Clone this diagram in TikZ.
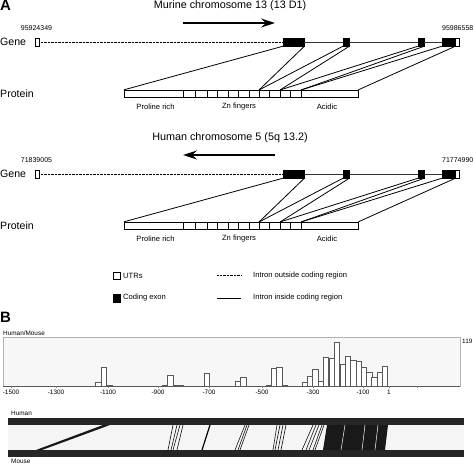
\documentclass[tikz,border=0pt]{standalone}
\usepackage{fontspec}
\setmainfont{Liberation Sans}
\usetikzlibrary{arrows.meta}

\begin{document}
\begin{tikzpicture}[x=1pt,y=-1pt,>={Stealth[length=14pt,width=9pt,inset=5pt]},
    exon/.style={draw,fill=black,inner sep=0pt,minimum height=8pt,anchor=west},
    utr/.style={draw,fill=white,inner sep=0pt,minimum width=4pt,minimum height=8pt,anchor=west},
    link/.style={line width=0.8pt},
    lbl/.style={font=\fontsize{7.6}{8}\selectfont,inner sep=0pt},
    big/.style={font=\fontsize{10.6}{12}\selectfont,inner sep=0pt},
    tiny/.style={font=\fontsize{6.4}{7}\selectfont,inner sep=0pt},
    bar/.style={draw=gray!70!black,fill=white,line width=0.5pt}]
  \useasboundingbox (0,0) rectangle (474,464);

  % panel A
  \node[font=\fontsize{15}{15}\bfseries\selectfont,anchor=north west,inner sep=0pt] (A) at (0,0) {A};

  \foreach \p/\dy/\ttl/\lnum/\rnum/\ax/\bx in {m/0/Murine chromosome 13 (13 D1)/95924349/95986558/183/275,
      h/132/Human chromosome 5 (5q 13.2)/71839005/71774990/275/183}{
    \begin{scope}[yshift=-\dy pt]
      \node[font=\fontsize{10.8}{12}\selectfont,inner sep=0pt] (\p-title) at (230,6) {\ttl};
      \coordinate (\p-a1) at (\ax,23);
      \coordinate (\p-a2) at (\bx,23);
      \draw[->,line width=1.3pt] (\p-a1) -- (\p-a2);

      % gene
      \node[font=\fontsize{7}{8}\selectfont,inner sep=0pt] (\p-lnum) at (36.5,28) {\lnum};
      \node[font=\fontsize{7}{8}\selectfont,inner sep=0pt,anchor=east] (\p-rnum) at (473.5,28) {\rnum};
      \node[big,anchor=west] (\p-gene) at (0,42) {Gene};
      \node[utr] (\p-u1) at (35,42) {};
      \node[exon,minimum width=21pt] (\p-e1) at (283,42) {};
      \node[exon,minimum width=6pt] (\p-e2) at (343,42) {};
      \node[exon,minimum width=6pt] (\p-e3) at (418,42) {};
      \node[exon,minimum width=13pt] (\p-e4) at (442,42) {};
      \node[utr] (\p-u2) at (\p-e4.east) {};
      \draw[densely dotted] (\p-u1) -- (\p-e1);
      \draw[gray!40!black] (\p-e1) -- (\p-e2) -- (\p-e3) -- (\p-e4);

      % protein
      \node[big,anchor=west] (\p-protl) at (0,93.5) {Protein};
      \node[draw,fill=white,inner sep=0pt,minimum width=234pt,minimum height=7pt,anchor=west] (\p-prot) at (124,93.5) {};
      \foreach \d in {183,195,207,217,228,238,249,259,269,280,290,301}
        \draw (\d,90) -- (\d,97);
      \coordinate (\p-z) at (259,90);
      \coordinate (\p-c1) at (280,90);
      \coordinate (\p-c2) at (301,90);
      \draw[link] (\p-e1.south west) -- (\p-prot.north west);
      \draw[link] (\p-e1.south east) -- (\p-z);
      \draw[link] (\p-e2.south west) -- (\p-z);
      \draw[link] (\p-e2.south east) -- (\p-c1);
      \draw[link] (\p-e3.south west) -- (\p-c1);
      \draw[link] (\p-e3.south east) -- (\p-c2);
      \draw[link] (\p-e4.south west) -- (\p-c2);
      \draw[link] (\p-e4.south east) -- (\p-prot.north east);
      \node[lbl] (\p-pro) at (155.5,106.5) {Proline rich};
      \node[lbl] (\p-zn) at (239,106.5) {Zn fingers};
      \node[lbl] (\p-ac) at (327,106.5) {Acidic};
    \end{scope}
  }

  % legend
  \node[utr,minimum width=7pt,minimum height=7pt] (lu) at (113,275.5) {};
  \node[lbl,anchor=west] (lut) at (123,275.5) {UTRs};
  \node[exon,minimum width=7pt] (le) at (113,298) {};
  \node[lbl,anchor=west] (let) at (123,298) {Coding exon};
  \coordinate (ld1) at (217,275.5);
  \coordinate (ld2) at (241,275.5);
  \coordinate (ls1) at (217,298);
  \coordinate (ls2) at (241,298);
  \draw[densely dotted] (ld1) -- (ld2);
  \draw (ls1) -- (ls2);
  \node[lbl,anchor=west] (ldt) at (253,275.5) {Intron outside coding region};
  \node[lbl,anchor=west] (lst) at (253,298) {Intron inside coding region};

  % panel B
  \node[font=\fontsize{15}{15}\bfseries\selectfont,anchor=north west,inner sep=0pt] (B) at (0,312) {B};
  \node[tiny,anchor=west] (hm) at (3,333) {Human/Mouse};
  \draw[draw=gray!60,fill=gray!6] (3,337) rectangle (460,386);
  \node[tiny,anchor=west] (max) at (462,341) {119};
  \foreach \bx/\by in {95.7/382,101/367,106.7/385,162.7/385,167.7/375,173.3/385,178.3/385.5,
      204/373,235.3/381,240.7/377,266.7/385.5,271.7/368,276.7/367,282.3/385,
      302.3/382,307.7/376,312.7/369,318.3/381,323.3/357,329/358,334.3/342,340/364,
      345/356,350.7/360,356/361,361/367,366.7/372,371.7/377,377/372,382.3/366}
    \draw[bar] (\bx,386) rectangle (\bx+5.3,\by);
  \draw[gray!70!black] (3,386) -- (460,386);
  \foreach \tx/\tl in {11/-1500,56/-1300,108/-1100,158/-900,209/-700,262/-500,313/-300,363/-100,389/1}{
    \draw[gray] (\tx,386) -- (\tx,388);
    \node[tiny,anchor=north] at (\tx,390) {\tl};
  }
  \draw[gray] (417,386) -- (417,388);

  % alignment
  \node[tiny,anchor=west] (hu) at (11,413) {Human};
  \node[tiny,anchor=west] (mo) at (11,461.5) {Mouse};
  \fill[gray!8] (8,425) rectangle (464,450);
  \fill[gray!30!black] (8,418) rectangle (464,425);
  \fill[gray!30!black] (8,450) rectangle (464,457);
  \fill[gray!20!black] (103,425) -- (110,425) -- (42,450) -- (36,450) -- cycle;
  \foreach \t/\b in {173/168,177/171,180/173,183/177,245/235,247/238,249/240,
      277/273,280/275,283/278,286/281,313/302,316/306,319/309,322/313,324/315}
    \draw[line width=0.6pt,gray!15!black] (\t,425) -- (\b,450);
  \draw[line width=1.2pt] (210,425) -- (202,450);
  \fill[gray!20!black] (327,425) -- (388,425) -- (385,450) -- (323,450) -- cycle;
  \foreach \t/\b in {345/341,365/362,378/375}
    \draw[white,line width=0.5pt] (\t,425) -- (\b,450);
\end{tikzpicture}
\end{document}
